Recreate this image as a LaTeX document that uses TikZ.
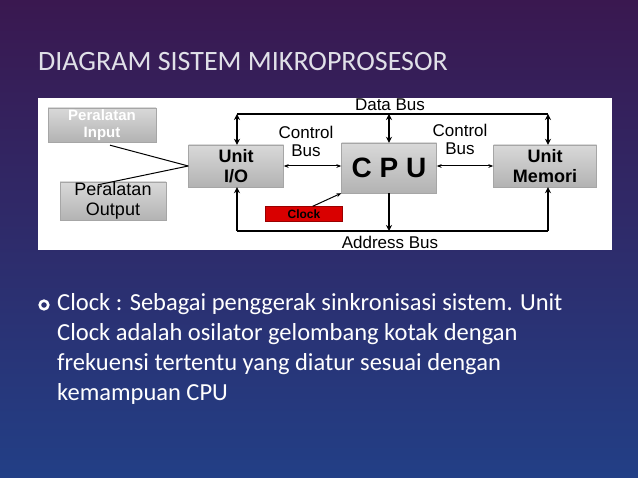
\documentclass[tikz,border=0pt]{standalone}
\usepackage{fontspec}
\setmainfont{Carlito}
\newfontfamily\arial{Liberation Sans}
\usetikzlibrary{arrows.meta}
\definecolor{bgtop}{HTML}{3A1850}
\definecolor{bgbot}{HTML}{223F86}
\definecolor{titlec}{HTML}{E0E0E8}
\tikzset{
 gbox/.style={draw=gray!70,top color=gray!30,bottom color=gray!60,minimum width=95pt,minimum height=42pt,font=\arial\bfseries\fontsize{18}{20}\selectfont,align=center,inner sep=0pt},
 bus/.style={line width=1.6pt},
 barr/.style={line width=1.6pt,-{Stealth[length=6pt,width=6pt]}},
 darr/.style={line width=1pt,{Stealth[length=5pt]}-{Stealth[length=5pt]}},
 lbl/.style={font=\arial\fontsize{17}{18}\selectfont,align=center,inner sep=0pt}
}
\begin{document}
\begin{tikzpicture}[x=1pt,y=-1pt]
\useasboundingbox (0,0) rectangle (638,478);
\shade[top color=bgtop,bottom color=bgbot] (0,0) rectangle (638,478);
\node[anchor=west,text=titlec,font=\fontsize{28}{28}\selectfont,inner sep=0pt] (title) at (38,62) {DIAGRAM SISTEM MIKROPROSESOR};
\fill[white] (38,98) rectangle (612,250);
\node[gbox,minimum width=108pt,minimum height=34pt,text=white,font=\arial\bfseries\fontsize{15}{17}\selectfont] (pin) at (102,125) {Peralatan\\Input};
\node[gbox,minimum width=106pt,minimum height=38pt,font=\arial\fontsize{18}{20}\selectfont] (pout) at (113,201) {Peralatan\\Output};
\node[gbox] (io) at (236,166) {Unit\\I/O};
\node[gbox,minimum height=50pt,font=\arial\bfseries\fontsize{28}{28}\selectfont] (cpu) at (389,168) {C P U};
\node[gbox,minimum width=103pt] (mem) at (545,166) {Unit\\Memori};
\node[draw=red!60!black,fill=red!85!black,minimum width=77pt,minimum height=15pt,inner sep=0pt,font=\arial\bfseries\fontsize{12}{12}\selectfont] (clk) at (304,214) {Clock};
\coordinate (d1) at (237,114); \coordinate (d2) at (389,114); \coordinate (d3) at (548,114);
\coordinate (a1) at (237,231); \coordinate (a2) at (389,231); \coordinate (a3) at (548,231);
\draw[bus] (d1) -- (d3);
\draw[bus] (a1) -- (a3);
\draw[line width=1.6pt,{Stealth[length=6pt,width=6pt]}-{Stealth[length=6pt,width=6pt]}] (d1) -- (io.north -| d1);
\draw[line width=1.6pt,{Stealth[length=6pt,width=6pt]}-{Stealth[length=6pt,width=6pt]}] (d2) -- (cpu.north -| d2);
\draw[line width=1.6pt,{Stealth[length=6pt,width=6pt]}-{Stealth[length=6pt,width=6pt]}] (d3) -- (mem.north -| d3);
\draw[barr] (a1) -- (io.south -| a1);
\draw[barr] (cpu.south -| a2) -- (a2);
\draw[barr] (a3) -- (mem.south -| a3);
\draw[darr] (io.east) -- (cpu.west |- io.east);
\draw[darr] (cpu.east |- mem.west) -- (mem.west);
\draw[line width=1pt] (pin.south) ++(8,3) -- (io.west);
\draw[line width=1pt] (pout.north) ++(-15,3) -- (io.west);
\draw[line width=1pt,-{Stealth[length=5pt]}] (clk.north east) ++(-30,0) -- (cpu.south west);
\node[lbl] (cb1) at (306,141) {Control\\Bus};
\node[lbl] (cb2) at (460,139) {Control\\Bus};
\node[lbl] (db) at (390,105) {Data Bus};
\node[lbl] (ab) at (390,242) {Address Bus};
\draw[white,line width=2.6pt] (44,305) circle (4.3pt);
\node[anchor=north west,text=white,align=left,font=\fontsize{24.5}{30}\selectfont,inner sep=0pt] (txt) at (57,293)
{Clock : Sebagai penggerak sinkronisasi sistem. Unit\\
Clock adalah osilator gelombang kotak dengan\\
frekuensi tertentu yang diatur sesuai dengan\\
kemampuan CPU};
\end{tikzpicture}
\end{document}
